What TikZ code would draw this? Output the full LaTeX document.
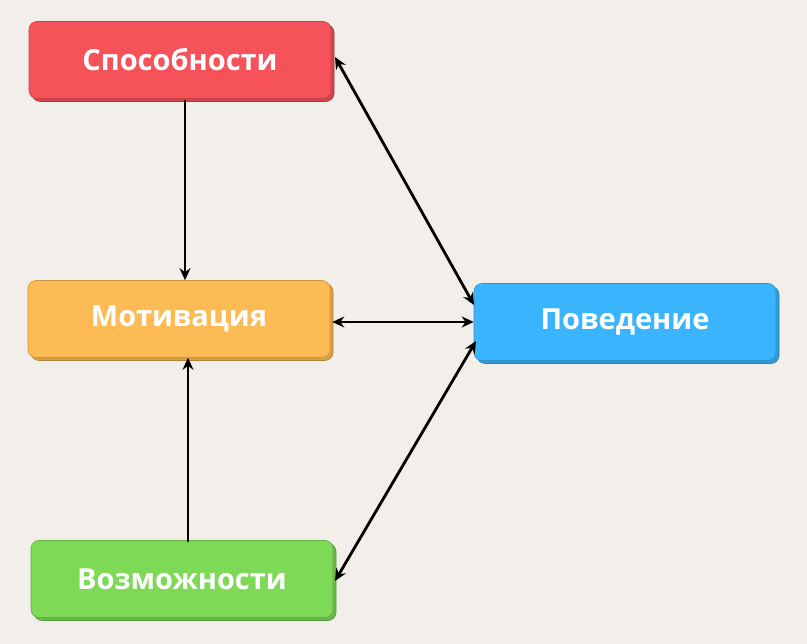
\documentclass[tikz,border=0pt]{standalone}
\usepackage{fontspec}
\setmainfont{Open Sans}
\usetikzlibrary{arrows.meta}
\definecolor{bg}{HTML}{F2EEE9}
\definecolor{cred}{HTML}{F5525A}
\definecolor{corange}{HTML}{FDBB55}
\definecolor{cgreen}{HTML}{7ED957}
\definecolor{cblue}{HTML}{3AB5FD}
\tikzset{
  box/.style={rounded corners=8pt, minimum width=302pt, minimum height=77pt, text=white, font=\bfseries\fontsize{29}{32}\selectfont, draw=#1!80!black, line width=0.6pt, fill=#1, inner sep=0pt},
  shadowbox/.style={rounded corners=8pt, minimum width=302pt, minimum height=77pt, draw=#1!70!black, fill=#1!85!black, line width=0.6pt},
  conn/.style={line width=2.8pt, -{Stealth[length=12pt,width=11pt]}},
  bconn/.style={line width=2.8pt, {Stealth[length=12pt,width=11pt]}-{Stealth[length=12pt,width=11pt]}}
}
\begin{document}
\begin{tikzpicture}[x=1pt,y=-1pt]
\fill[bg] (0,0) rectangle (807,644);
\useasboundingbox (0,0) rectangle (807,644);
\node[shadowbox=cred] at (183,63) {};
\node[box=cred] (s) at (180,60) {Способности};
\node[shadowbox=corange] at (182,322) {};
\node[box=corange] (m) at (179,319) {Мотивация};
\node[shadowbox=cgreen] at (185,582) {};
\node[box=cgreen] (v) at (182,579) {Возможности};
\node[shadowbox=cblue] at (628,325) {};
\node[box=cblue] (p) at (625,322) {Поведение};
\draw[conn] (185,100) -- (m.north -| 185,0);
\draw[conn] (188,542) -- (m.south -| 188,0);
\draw[bconn] (m.east) ++(2,3) -- (p.west |- 0,322);
\coordinate (pa) at (474,305);
\coordinate (pb) at (476,341);
\draw[bconn] (335,57) -- (pa);
\draw[bconn] (335,581) -- (pb);
\end{tikzpicture}
\end{document}
